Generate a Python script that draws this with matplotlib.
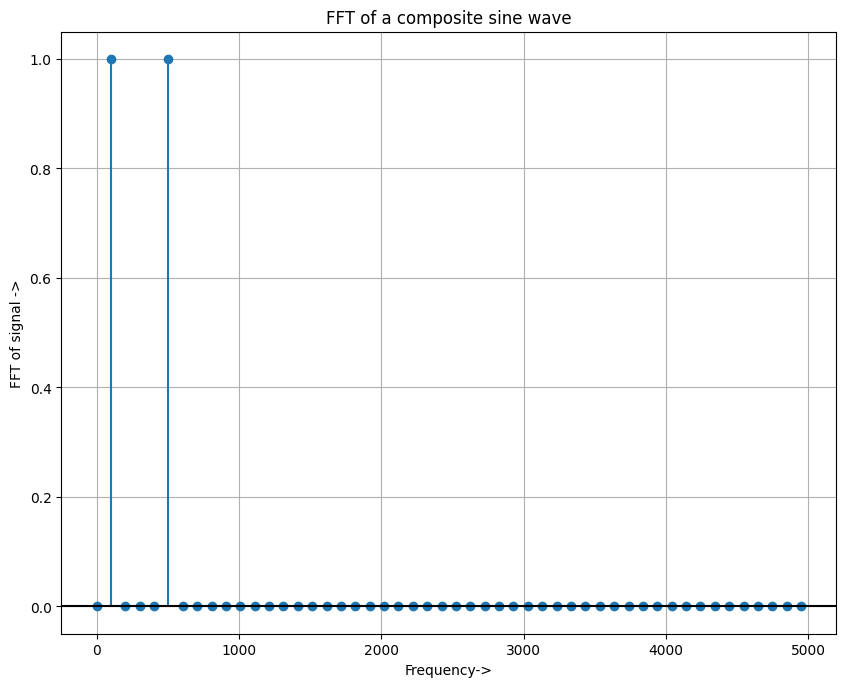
import matplotlib
matplotlib.use("Agg")
import matplotlib.pyplot as plt

freqs = [0, 101, 202, 303, 404, 505, 606, 707, 808, 909,
         1010, 1111, 1212, 1313, 1414, 1515, 1616, 1717, 1818, 1919,
         2020, 2121, 2222, 2323, 2424, 2525, 2626, 2727, 2828, 2929,
         3030, 3131, 3232, 3333, 3434, 3535, 3636, 3737, 3838, 3939,
         4040, 4141, 4242, 4343, 4444, 4545, 4646, 4747, 4848, 4949]
magnitudes = [0.0, 1.0, 0.0, 0.0, 0.0, 1.0] + [0.0] * 44

fig, ax = plt.subplots(figsize=(10, 7.82), dpi=100)
ax.stem(freqs, magnitudes, basefmt=" ")
ax.axhline(0, color="black")
ax.set_title("FFT of a composite sine wave")
ax.set_xlabel("Frequency->")
ax.set_ylabel("FFT of signal ->")
ax.grid(True)
fig.savefig("out.png", bbox_inches="tight")
